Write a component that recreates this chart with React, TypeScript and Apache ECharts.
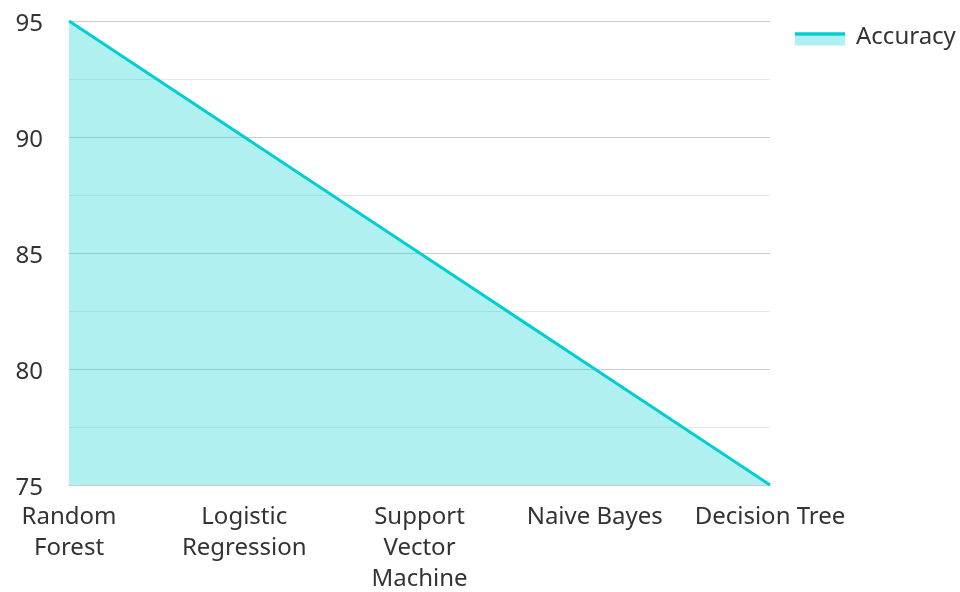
import React, { useEffect, useRef } from "react";
import * as echarts from "echarts";

const categories = ["Random Forest", "Logistic Regression", "Support Vector Machine", "Naive Bayes", "Decision Tree"];
const wrappedLabels: Record<string, string> = {
  "Random Forest": "Random\nForest",
  "Logistic Regression": "Logistic\nRegression",
  "Support Vector Machine": "Support\nVector\nMachine",
  "Naive Bayes": "Naive Bayes",
  "Decision Tree": "Decision Tree",
};
const accuracy = [95, 90, 85, 80, 75];
const seriesName = "Accuracy";

const FONT = "Noto Sans";
const LINE = "#00ced1";
const FILL = "rgba(0,206,209,0.31)";

export default function App() {
  const ref = useRef<HTMLDivElement>(null);
  useEffect(() => {
    if (!ref.current) return;
    const chart = echarts.init(ref.current, undefined, { renderer: "svg" });
    chart.setOption({
      animation: false,
      textStyle: { fontFamily: FONT },
      grid: { left: 69, right: 190, top: 21, bottom: 103, containLabel: false },
      xAxis: {
        type: "category",
        data: categories,
        boundaryGap: false,
        axisLine: { show: true, lineStyle: { color: "#cccccc", width: 1 } },
        axisTick: { show: false },
        splitLine: { show: false },
        axisLabel: {
          interval: 0,
          color: "#333333",
          fontSize: 24,
          fontFamily: FONT,
          lineHeight: 31,
          margin: 14,
          formatter: (v: string) => wrappedLabels[v] ?? v,
        },
      },
      yAxis: {
        type: "value",
        min: 75,
        max: 95,
        interval: 5,
        axisLine: { show: false },
        axisTick: { show: false },
        axisLabel: { color: "#333333", fontSize: 24, fontFamily: FONT, margin: 26 },
        splitLine: { show: true, lineStyle: { color: "#cccccc", width: 1 } },
        minorTick: { show: false, splitNumber: 2 },
        minorSplitLine: { show: true, lineStyle: { color: "#e6e6e6", width: 1 } },
      },
      series: [
        {
          name: seriesName,
          type: "line",
          data: accuracy,
          showSymbol: false,
          symbol: "none",
          lineStyle: { color: LINE, width: 3 },
          itemStyle: { color: LINE },
          areaStyle: { color: FILL, opacity: 1, origin: "start" },
        },
      ],
      graphic: [
        { type: "rect", shape: { x: 795, y: 35.5, width: 50, height: 10 }, style: { fill: FILL } },
        { type: "line", shape: { x1: 795, y1: 34, x2: 845, y2: 34 }, style: { stroke: LINE, lineWidth: 3.5 } },
        {
          type: "text",
          x: 856,
          y: 34,
          style: { text: seriesName, fontSize: 24, fontFamily: FONT, fill: "#333333", verticalAlign: "middle", align: "left" },
        },
      ],
    });
    return () => chart.dispose();
  }, []);
  return <div ref={ref} style={{ position: "fixed", left: 0, top: 0, width: 960, height: 592 }} />;
}
